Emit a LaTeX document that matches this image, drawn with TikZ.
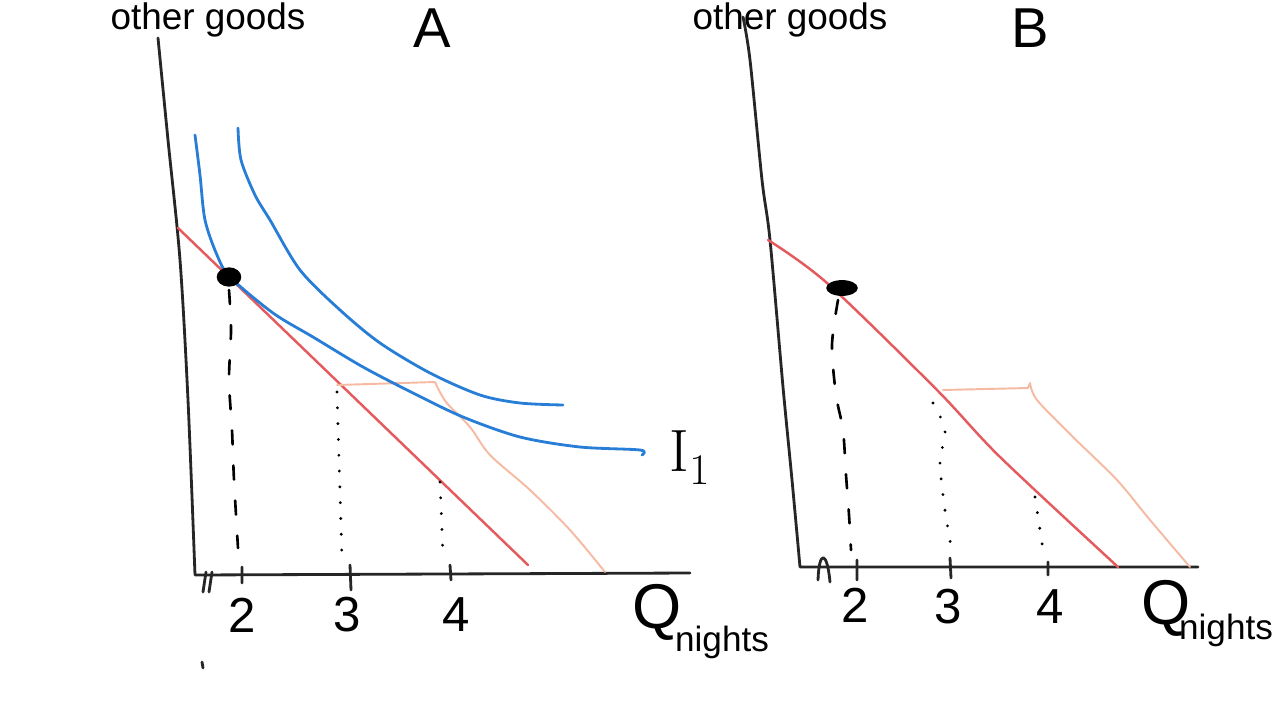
\documentclass[tikz,border=0pt]{standalone}
\usepackage{fontspec}
\setsansfont{Liberation Sans}
\usepackage{tikz}
\usetikzlibrary{arrows.meta}
\definecolor{budred}{RGB}{228,90,94}
\definecolor{newbud}{RGB}{246,186,162}
\definecolor{indblue}{RGB}{40,126,214}

\begin{document}
\begin{tikzpicture}[x=0.02cm,y=-0.02cm,line cap=round,line join=round,
  axis/.style={line width=1.6pt,black!85},
  budget/.style={line width=1.4pt,budred},
  newbudget/.style={line width=1.1pt,newbud},
  indiff/.style={line width=1.6pt,indblue},
  drop/.style={line width=1.5pt,dash pattern=on 8pt off 12pt},
  dots/.style={line width=1.8pt,dash pattern=on 0pt off 9pt},
  lab/.style={font=\sffamily\fontsize{28}{28}\selectfont},
  title/.style={font=\sffamily\fontsize{21}{21}\selectfont}]
\useasboundingbox (0,0) rectangle (1280,720);
% panel A
\draw[axis] plot[smooth] coordinates {(158,38) (168,140) (180,260) (188,400) (195,575)} -- (690,573);
\draw[budget] (178,228) -- (528,565);
\draw[newbudget] (337,385) -- (435,382) plot[smooth] coordinates {(435,382) (446,402) (470,427) (490,455) (530,490) (570,530) (605,572)};
\draw[indiff] plot[smooth] coordinates {(195,135) (200,175) (205,220) (217,255) (230,277) (273,313) (313,337) (363,367) (413,393) (463,417) (520,437) (580,447) (640,450) (642,455)};
\draw[indiff] plot[smooth] coordinates {(238,128) (241,160) (255,195) (270,220) (300,270) (340,310) (380,343) (430,373) (480,395) (520,403) (563,405)};
\coordinate (optA) at (229,277);
\fill (optA) ellipse [x radius=7pt,y radius=5.5pt];
\draw[drop] plot[smooth] coordinates {(229,290) (231,330) (229,380) (232,430) (234,480) (238,548)};
\draw[dots] (337,392) -- (342,560);
\draw[dots] (440,482) -- (443,556);
\draw[axis] (206,572) -- (203,592) (212,572) -- (209,592);
\draw[axis] (242,567) -- (242,583) (350,565) -- (351,590) (450,565) -- (451,580);
\draw[axis] (202,662) -- (203,668);
\node[lab] (twoA) at (242,615) {2};
\node[lab] (threeA) at (347,615) {3};
\node[lab] (fourA) at (456,615) {4};
\node[lab,font=\sffamily\fontsize{36}{36}\selectfont] (qA) at (657,612) {Q};
\node[title,font=\sffamily\fontsize{20}{20}\selectfont] (nightsA) at (722,642) {nights};
\node[font=\fontsize{34}{34}\selectfont] (indA) at (690,458) {I$_1$};
\node[title] (goodsA) at (208,20) {other goods};
\node[lab,font=\sffamily\fontsize{32}{32}\selectfont] (labA) at (432,28) {A};
% panel B
\draw[axis] plot[smooth] coordinates {(743,17) (750,60) (762,180) (770,240) (783,387) (792,480) (800,567)} -- (1198,567);
\draw[budget] plot[smooth] coordinates {(768,240) (827,283) (937,390) (1000,457) (1118,567)};
\draw[newbudget] (943,390) -- (1028,388) -- (1030,383) plot[smooth] coordinates {(1030,383) (1037,400) (1073,437) (1117,480) (1150,520) (1190,567)};
\coordinate (optB) at (842,288);
\fill (optB) ellipse [x radius=9pt,y radius=4.5pt];
\draw[drop] plot[smooth] coordinates {(838,300) (832,345) (836,395) (843,430) (846,475) (849,515) (851,550)};
\draw[dots] plot[smooth] coordinates {(933,403) (945,430) (940,463) (945,510) (952,552)};
\draw[dots] (1035,497) -- (1043,550);
\draw[axis] (818,580) .. controls (819,550) and (827,550) .. (830,582);
\draw[axis] (857,560) -- (857,580) (950,558) -- (951,578) (1048,562) -- (1048,575);
\node[lab] (twoB) at (855,605) {2};
\node[lab] (threeB) at (948,607) {3};
\node[lab] (fourB) at (1050,607) {4};
\node[lab,font=\sffamily\fontsize{36}{36}\selectfont] (qB) at (1166,608) {Q};
\node[title,font=\sffamily\fontsize{20}{20}\selectfont] (nightsB) at (1226,630) {nights};
\node[title] (goodsB) at (790,20) {other goods};
\node[lab,font=\sffamily\fontsize{32}{32}\selectfont] (labB) at (1030,28) {B};
\end{tikzpicture}
\end{document}
